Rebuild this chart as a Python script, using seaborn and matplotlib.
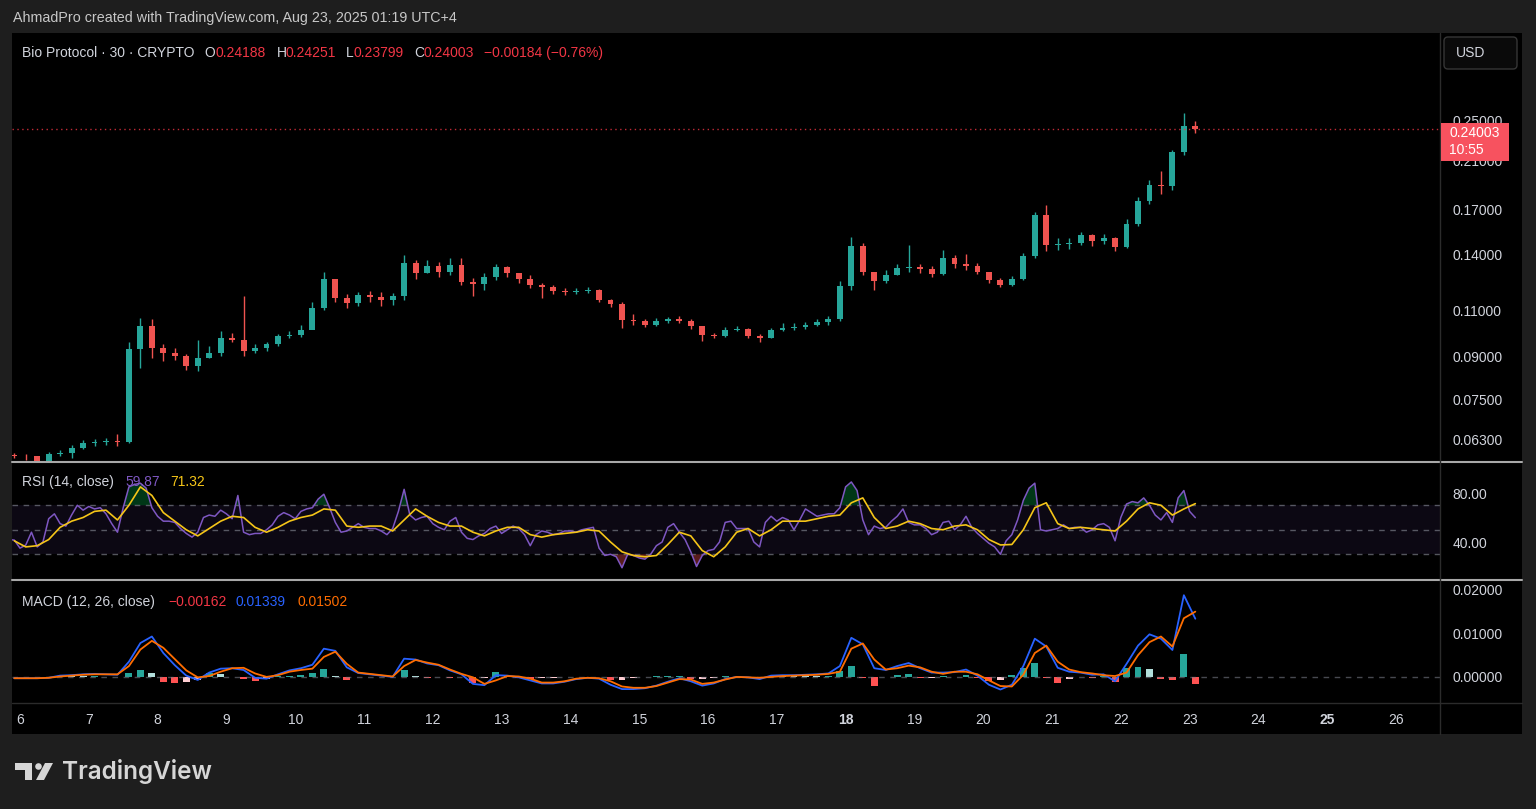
import numpy as np
import pandas as pd
import matplotlib
matplotlib.use("Agg")
import matplotlib.pyplot as plt
from matplotlib.patches import Rectangle, FancyBboxPatch, Polygon, Circle
from matplotlib.lines import Line2D
from matplotlib.ticker import NullLocator
from matplotlib.transforms import IdentityTransform
import seaborn as sns

W, H = 1536, 809

# values, 4h candles (first one opens Aug 5 20:00, UTC+4)
first_open = 0.0590
close = [
    0.0588, 0.0586, 0.0570, 0.0592, 0.0595, 0.0608, 0.0622,
    0.0625, 0.0626, 0.0625, 0.0930, 0.1030, 0.0935,
    0.0915, 0.0905, 0.0865, 0.0895, 0.0915, 0.0975,
    0.0970, 0.0925, 0.0935, 0.0950, 0.0985, 0.0990,
    0.1010, 0.1110, 0.1260, 0.1160, 0.1135, 0.1175,
    0.1165, 0.1150, 0.1170, 0.1350, 0.1290, 0.1330,
    0.1300, 0.1340, 0.1245, 0.1235, 0.1270, 0.1325,
    0.1290, 0.1260, 0.1225, 0.1215, 0.1195, 0.1190,
    0.1195, 0.1200, 0.1150, 0.1130, 0.1055, 0.1050,
    0.1035, 0.1050, 0.1060, 0.1050, 0.1030, 0.0990,
    0.0985, 0.1010, 0.1015, 0.0985, 0.0975, 0.1010,
    0.1020, 0.1025, 0.1035, 0.1045, 0.1060, 0.1220,
    0.1450, 0.1300, 0.1250, 0.1280, 0.1320, 0.1325,
    0.1315, 0.1285, 0.1380, 0.1345, 0.1330, 0.1300,
    0.1255, 0.1230, 0.1260, 0.1390, 0.1660, 0.1460,
    0.1465, 0.1470, 0.1520, 0.1485, 0.1505, 0.1445,
    0.1600, 0.1760, 0.1890, 0.1880, 0.2180, 0.2440,
    0.24003,
]
high = [
    0.0595, 0.0593, 0.0588, 0.0598, 0.0602, 0.0615, 0.0628,
    0.0632, 0.0635, 0.0645, 0.0960, 0.1065, 0.1060,
    0.0950, 0.0935, 0.0910, 0.0970, 0.0945, 0.1005,
    0.1000, 0.1170, 0.0950, 0.0960, 0.0995, 0.1005,
    0.1035, 0.1140, 0.1300, 0.1260, 0.1180, 0.1190,
    0.1195, 0.1190, 0.1185, 0.1395, 0.1370, 0.1370,
    0.1355, 0.1380, 0.1380, 0.1265, 0.1290, 0.1345,
    0.1330, 0.1295, 0.1280, 0.1240, 0.1225, 0.1210,
    0.1210, 0.1215, 0.1205, 0.1155, 0.1140, 0.1085,
    0.1060, 0.1065, 0.1070, 0.1075, 0.1060, 0.1030,
    0.1000, 0.1025, 0.1030, 0.1020, 0.0995, 0.1020,
    0.1040, 0.1040, 0.1045, 0.1060, 0.1075, 0.1250,
    0.1510, 0.1470, 0.1300, 0.1310, 0.1345, 0.1460,
    0.1345, 0.1335, 0.1430, 0.1395, 0.1400, 0.1350,
    0.1300, 0.1265, 0.1275, 0.1410, 0.1680, 0.1730,
    0.1500, 0.1505, 0.1545, 0.1530, 0.1530, 0.1510,
    0.1630, 0.1790, 0.1930, 0.2010, 0.2200, 0.2580,
    0.2490,
]
low = [
    0.0583, 0.0578, 0.0562, 0.0565, 0.0586, 0.0582, 0.0605,
    0.0614, 0.0616, 0.0612, 0.0620, 0.0860, 0.0895,
    0.0885, 0.0890, 0.0850, 0.0848, 0.0895, 0.0905,
    0.0960, 0.0905, 0.0915, 0.0925, 0.0945, 0.0975,
    0.0980, 0.1020, 0.1100, 0.1140, 0.1110, 0.1120,
    0.1140, 0.1120, 0.1125, 0.1150, 0.1260, 0.1290,
    0.1270, 0.1280, 0.1230, 0.1170, 0.1200, 0.1255,
    0.1270, 0.1240, 0.1210, 0.1160, 0.1180, 0.1175,
    0.1180, 0.1185, 0.1140, 0.1115, 0.1020, 0.1035,
    0.1025, 0.1030, 0.1040, 0.1040, 0.1015, 0.0965,
    0.0975, 0.0980, 0.1005, 0.0975, 0.0960, 0.0975,
    0.1005, 0.1010, 0.1015, 0.1030, 0.1035, 0.1050,
    0.1200, 0.1280, 0.1200, 0.1240, 0.1280, 0.1300,
    0.1290, 0.1270, 0.1280, 0.1320, 0.1310, 0.1285,
    0.1240, 0.1215, 0.1220, 0.1255, 0.1380, 0.1420,
    0.1425, 0.1435, 0.1460, 0.1455, 0.1465, 0.1420,
    0.1440, 0.1580, 0.1740, 0.1820, 0.1850, 0.2150,
    0.2360,
]

# RSI(14) every 2h, starting Aug 5 20:00
rsi_2h = [
    42, 41.6, 35, 37.5, 48, 36, 40, 59, 63, 55,
    53, 62, 70, 66, 69, 67, 68, 63, 55, 48,
    68, 85, 87, 88, 84, 68, 61, 57, 57, 56,
    51, 47, 44, 48, 60, 62, 61, 66, 63, 59,
    78, 48, 46, 47, 47, 50, 54, 61, 64, 62,
    59, 65, 67, 68, 75, 79, 68, 56, 48, 49,
    52, 55, 52, 51, 51, 49, 46, 51, 65, 83,
    62, 58, 60, 61, 55, 52, 50, 57, 60, 48,
    43, 42, 45, 47, 51, 53, 47, 50, 53, 51,
    46, 37, 46, 49, 48, 46, 47, 49, 49, 48,
    50, 51, 52, 35, 29, 30, 28, 19, 30, 29,
    27, 26, 30, 37, 40, 52, 55, 48, 42, 32,
    20, 29, 33, 34, 40, 56, 57, 51, 51, 51,
    40, 36, 56, 61, 57, 60, 58, 50, 58, 67,
    64, 61, 62, 63, 63, 68, 85, 89, 82, 58,
    46, 53, 51, 52, 57, 61, 67, 56, 54, 54,
    51, 46, 48, 56, 57, 50, 54, 61, 52, 47,
    43, 39, 36, 30, 41, 46, 58, 74, 84, 88,
    50, 49, 50, 51, 54, 51, 52, 52, 48, 50,
    54, 55, 52, 41, 60, 71, 73, 72, 76, 70,
    62, 58, 64, 56, 76, 82, 65, 59.87,
]
# RSI-based MA and MACD lines, one value per candle (at candle middle)
rsi_ma = [
    41, 36, 37, 42, 52, 57, 60, 65, 66, 58,
    70, 85, 78, 64, 57, 50, 45, 51, 57, 61,
    60, 52, 48, 52, 57, 60, 62, 67, 66, 53,
    52, 53, 53, 49, 58, 67, 61, 56, 53, 53,
    48, 45, 49, 52, 52, 46, 44, 46, 47, 48,
    50, 49, 40, 32, 29, 28, 29, 38, 48, 45,
    33, 28, 36, 48, 51, 45, 50, 57, 57, 57,
    59, 61, 62, 72, 76, 60, 51, 53, 57, 55,
    51, 50, 53, 54, 50, 42, 37.6, 38, 50, 68,
    72, 55, 51, 52, 51, 50, 49, 57, 67, 72,
    70, 62, 67, 71.32,
]
macd_line = [
    -0.0003, -0.0003, -0.0003, -0.0002, 0.0003, 0.0004, 0.0006, 0.0007, 0.0006, 0.0005,
    0.0035, 0.0078, 0.0093, 0.0055, 0.0027, 0.0003, -0.0007, 0.0010, 0.0019, 0.0020,
    0.0016, -0.0002, -0.0004, 0.0006, 0.0015, 0.0020, 0.0028, 0.0065, 0.0060, 0.0022,
    0.0009, 0.0006, 0.0003, 0.0000, 0.0042, 0.0040, 0.0031, 0.0027, 0.0015, 0.0006,
    -0.0016, -0.0019, 0.0004, 0.0003, -0.0001, -0.0008, -0.0015, -0.0015, -0.0011, -0.0005,
    -0.0002, -0.0004, -0.0018, -0.0028, -0.0028, -0.0026, -0.0020, -0.0011, -0.0003, -0.0010,
    -0.0020, -0.0015, -0.0005, 0.0000, -0.0001, -0.0005, 0.0003, 0.0004, 0.0004, 0.0005,
    0.0006, 0.0008, 0.0025, 0.0090, 0.0075, 0.0020, 0.0016, 0.0025, 0.0032, 0.0020,
    0.0010, 0.0010, 0.0011, 0.0017, 0.0003, -0.0018, -0.0029, -0.0018, 0.0025, 0.0088,
    0.0070, 0.0021, 0.0012, 0.0010, 0.0005, 0.0006, -0.0010, 0.0030, 0.0072, 0.0098,
    0.0088, 0.0062, 0.0188, 0.01339,
]
signal_line = [
    -0.0003, -0.0003, -0.0003, -0.0002, 0.0001, 0.0003, 0.0005, 0.0006, 0.0006, 0.0006,
    0.0025, 0.0063, 0.0083, 0.0067, 0.0041, 0.0015, -0.0001, 0.0002, 0.0012, 0.0020,
    0.0021, 0.0008, 0.0000, 0.0004, 0.0012, 0.0016, 0.0019, 0.0046, 0.0058, 0.0030,
    0.0010, 0.0007, 0.0004, 0.0001, 0.0025, 0.0039, 0.0033, 0.0028, 0.0017, 0.0007,
    -0.0001, -0.0016, -0.0008, 0.0002, 0.0001, -0.0004, -0.0013, -0.0013, -0.0010, -0.0004,
    -0.0002, -0.0003, -0.0010, -0.0022, -0.0025, -0.0025, -0.0021, -0.0013, -0.0005, -0.0006,
    -0.0016, -0.0013, -0.0006, 0.0000, -0.0001, -0.0002, 0.0000, 0.0002, 0.0003, 0.0004,
    0.0005, 0.0007, 0.0012, 0.0065, 0.0077, 0.0040, 0.0017, 0.0020, 0.0026, 0.0022,
    0.0012, 0.0007, 0.0012, 0.0012, 0.0006, -0.0008, -0.0021, -0.0022, 0.0005, 0.0055,
    0.0072, 0.0035, 0.0017, 0.0011, 0.0008, 0.0004, 0.0002, 0.0010, 0.0050, 0.0080,
    0.0093, 0.0070, 0.0135, 0.01502,
]

price_ticks = [0.063, 0.075, 0.09, 0.11, 0.14, 0.17, 0.21, 0.25]
rsi_ticks = [40, 80]
macd_ticks = [0.0, 0.01, 0.02]
days = list(range(6, 27))
bold_days = [18, 25]
last_price = 0.24003
countdown = "10:55"

BG = "#1e1e1e"
TXT = "#d1d4dc"
UP = "#26a69a"
DOWN = "#ef5350"
RED_TXT = "#f23645"
PURPLE = "#7e57c2"
YELLOW = "#f5c518"
BLUE = "#2962ff"
ORANGE = "#ff6d00"

sns.set_theme(style="dark", rc={
    "figure.facecolor": BG,
    "axes.facecolor": "none",
    "axes.edgecolor": "none",
    "axes.grid": False,
    "patch.edgecolor": "none",
})
plt.rcParams["font.family"] = ["Liberation Sans", "DejaVu Sans"]

start = 5 + 20 / 24
t4 = start + np.arange(len(close)) / 6 + 1 / 12
t2 = start + np.arange(len(rsi_2h)) / 12

opens = np.array([first_open] + close[:-1])
closes = np.array(close)
up = closes >= opens
cols = np.where(up, UP, DOWN)

df4 = pd.DataFrame({"t": t4, "ma": rsi_ma, "macd": macd_line, "signal": signal_line})
df4["hist"] = df4["macd"] - df4["signal"]
df2 = pd.DataFrame({"t": t2, "rsi": rsi_2h})

fig = plt.figure(figsize=(W / 100, H / 100), dpi=100)


def box(x0, y0, x1, y1):
    return [x0 / W, 1 - y1 / H, (x1 - x0) / W, (y1 - y0) / H]


def put(x, y, s, color, size=10, ha="left", **kw):
    fig.text(x / W, 1 - y / H, s, color=color, fontsize=size, ha=ha, va="center", **kw)


# black chart panel
fig.add_artist(Rectangle((12 / W, 1 - 734 / H), 1510 / W, 701 / H, transform=fig.transFigure,
                         facecolor="black", edgecolor="none", lw=0, zorder=-10))

ax_p = fig.add_axes(box(12, 33, 1440, 462))
ax_r = fig.add_axes(box(12, 462, 1440, 580))
ax_m = fig.add_axes(box(12, 580, 1440, 703))
xlim = (5.8837, 26.6395)

# --- price pane ---
ax_p.vlines(t4, low, high, colors=cols, linewidth=1)
body_lo = np.minimum(opens, closes)
body_h = np.maximum(np.abs(closes - opens), closes * 0.002)
ax_p.bar(t4, body_h, bottom=body_lo, width=0.085, color=cols, linewidth=0)
ax_p.axhline(last_price, color=RED_TXT, lw=1, ls=(0, (1, 2.5)), alpha=0.8)
ax_p.set_yscale("log")
ax_p.set_ylim(0.05722, 0.3638)
ax_p.set_xlim(*xlim)
ax_p.set_xticks([])
ax_p.yaxis.tick_right()
ax_p.set_yticks(price_ticks)
ax_p.set_yticklabels([f"{v:.5f}" for v in price_ticks])
ax_p.yaxis.set_minor_locator(NullLocator())

# --- RSI pane ---
ax_r.axhspan(30, 70, color=PURPLE, alpha=0.1, lw=0)
for lvl in (70, 50, 30):
    ax_r.axhline(lvl, color="#787b86", lw=1, ls=(0, (4, 4)), alpha=0.7)
rv = df2["rsi"].to_numpy()
ax_r.fill_between(t2, 70, rv, where=rv > 70, interpolate=True, color="#00c853", alpha=0.28, lw=0)
ax_r.fill_between(t2, 30, rv, where=rv < 30, interpolate=True, color="#ff5252", alpha=0.35, lw=0)
sns.lineplot(data=df2, x="t", y="rsi", ax=ax_r, color=PURPLE, linewidth=1.1, estimator=None)
sns.lineplot(data=df4, x="t", y="ma", ax=ax_r, color=YELLOW, linewidth=1.2, estimator=None)
ax_r.set_ylim(9, 105.3)
ax_r.set_xlim(*xlim)
ax_r.set_xticks([])
ax_r.yaxis.tick_right()
ax_r.set_yticks(rsi_ticks)
ax_r.set_yticklabels([f"{v:.2f}" for v in rsi_ticks])

# --- MACD pane ---
ax_m.axhline(0, color="#787b86", lw=1, ls=(0, (4, 4)), alpha=0.6)
hist = df4["hist"].to_numpy()
prev = np.concatenate([[0], hist[:-1]])
hcol = np.where(hist >= 0,
                np.where(hist >= prev, "#26a69a", "#b2dfdb"),
                np.where(hist < prev, "#ff5252", "#ffcdd2"))
ax_m.bar(t4, hist, width=0.1, color=hcol, linewidth=0)
sns.lineplot(data=df4, x="t", y="macd", ax=ax_m, color=BLUE, linewidth=1.3, estimator=None)
sns.lineplot(data=df4, x="t", y="signal", ax=ax_m, color=ORANGE, linewidth=1.3, estimator=None)
ax_m.set_ylim(-0.006, 0.0223)
ax_m.set_xlim(*xlim)
ax_m.yaxis.tick_right()
ax_m.set_yticks(macd_ticks)
ax_m.set_yticklabels([f"{v:.5f}" for v in macd_ticks])
ax_m.set_xticks(days)
ax_m.set_xticklabels([str(d) for d in days])
for lab in ax_m.get_xticklabels():
    if lab.get_text() in [str(d) for d in bold_days]:
        lab.set_fontweight("bold")

for ax in (ax_p, ax_r, ax_m):
    ax.set_xlabel("")
    ax.set_ylabel("")
    for sp in ax.spines.values():
        sp.set_visible(False)
    ax.tick_params(axis="y", length=0, pad=9, labelcolor=TXT, labelsize=10)
    ax.tick_params(axis="x", length=0, pad=7, labelcolor=TXT, labelsize=10)

# pane separators and axis borders
for y in (462, 580):
    fig.add_artist(Line2D([12 / W, 1522 / W], [1 - y / H] * 2, color="#a8a8a8", lw=1.5, zorder=5))
fig.add_artist(Line2D([12 / W, 1522 / W], [1 - 703 / H] * 2, color="#2b2b2b", lw=1, zorder=5))
fig.add_artist(Line2D([1440 / W] * 2, [1 - 33 / H, 1 - 734 / H], color="#2b2b2b", lw=1, zorder=5))

# last price label
fig.add_artist(Rectangle((1441 / W, 1 - 161 / H), 68 / W, 38 / H, transform=fig.transFigure,
                         facecolor="#f7525f", edgecolor="none", lw=0, zorder=6))
fig.text(1449 / W, 1 - 133 / H, f"{last_price:.5f}", color="white", fontsize=10,
         va="center", zorder=7)
fig.text(1449 / W, 1 - 150 / H, countdown, color="white", fontsize=10, va="center", zorder=7)

# currency box
fig.add_artist(FancyBboxPatch((1444, H - 69), 73, 32, boxstyle="round,pad=0,rounding_size=4",
                              transform=IdentityTransform(), facecolor="#0a0a0a",
                              edgecolor="#363636", lw=1, zorder=6))
fig.text(1456 / W, 1 - 53 / H, "USD", color=TXT, fontsize=10, va="center", zorder=7)

# header texts
put(13, 18, "AhmadPro created with TradingView.com, Aug 23, 2025 01:19 UTC+4", "#c8c8c8", size=10.3)
put(22, 53, "Bio Protocol · 30 · CRYPTO", TXT)
for x, s, c in [(204, "O", TXT), (215, "0.24188", RED_TXT),
                (277, "H", TXT), (286, "0.24251", RED_TXT),
                (346, "L", TXT), (353, "0.23799", RED_TXT),
                (414, "C", TXT), (424, "0.24003", RED_TXT),
                (484, "−0.00184 (−0.76%)", RED_TXT)]:
    put(x, 53, s, c)

put(22, 482, "RSI (14, close)", TXT)
put(125, 482, "59.87", PURPLE)
put(170, 482, "71.32", YELLOW)

put(22, 602, "MACD (12, 26, close)", TXT)
put(168, 602, "−0.00162", RED_TXT)
put(236, 602, "0.01339", BLUE)
put(297, 602, "0.01502", ORANGE)

# TradingView logo
LOGO = "#d6d6d6"
idt = IdentityTransform()
fig.add_artist(Polygon([(15, H - 763), (32, H - 763), (32, H - 780), (25, H - 780),
                        (25, H - 770), (15, H - 770)], closed=True, transform=idt,
                       facecolor=LOGO, lw=0))
fig.add_artist(Circle((38.5, H - 766.5), 3.3, transform=idt, facecolor=LOGO, lw=0))
fig.add_artist(Polygon([(45, H - 763), (53, H - 763), (44, H - 780), (36, H - 780)],
                       closed=True, transform=idt, facecolor=LOGO, lw=0))
fig.text(62 / W, 1 - 772 / H, "TradingView", color=LOGO, fontsize=17.5,
         fontweight="semibold", family=["Inter", "DejaVu Sans"], va="center")

fig.savefig("out.png", dpi=100, facecolor=BG)
